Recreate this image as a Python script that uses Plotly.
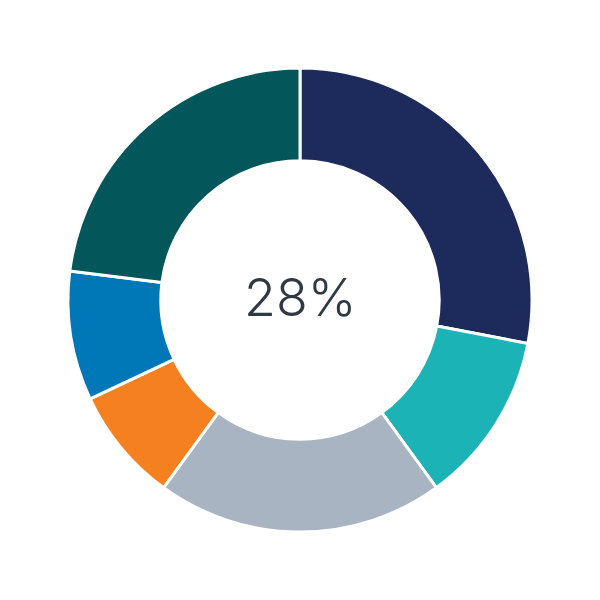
import plotly.graph_objects as go

# fatias no sentido horário a partir do topo
categorias = ["A", "B", "C", "D", "E", "F"]
valores = [28, 12, 20, 8, 9, 23]
cores = ["#1c2b5b", "#1bb3b6", "#a9b4c2", "#f58020", "#0077b6", "#03575a"]
texto_centro = "28%"

fig = go.Figure(
    go.Pie(
        labels=categorias,
        values=valores,
        hole=0.6,
        sort=False,
        direction="clockwise",
        rotation=0,
        marker=dict(colors=cores, line=dict(color="white", width=3)),
        textinfo="none",
        hoverinfo="label+percent",
    )
)

# a página tem 8px de margem no body, por isso o deslocamento
fig.update_layout(
    width=600,
    height=600,
    showlegend=False,
    paper_bgcolor="white",
    margin=dict(l=60, r=76, t=60, b=76),
    annotations=[
        dict(
            text=texto_centro,
            x=0.5,
            y=0.5,
            xref="paper",
            yref="paper",
            yshift=3,
            showarrow=False,
            font=dict(family="Inter", size=52, color="#2f3943", weight=350),
        )
    ],
)

fig.write_html("out.html")
